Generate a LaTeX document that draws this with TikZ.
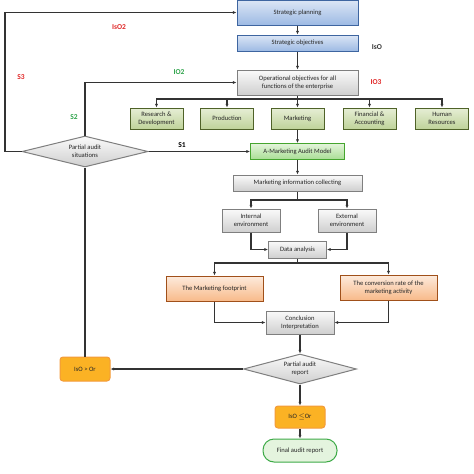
\documentclass[tikz,border=0pt]{standalone}
\usepackage{fontspec}
\setmainfont{Carlito}
\usetikzlibrary{arrows.meta,shapes.geometric,shadings,calc}
\definecolor{lineC}{HTML}{333333}
\definecolor{blueTop}{HTML}{DCE6F5}
\definecolor{blueBot}{HTML}{9DBAE4}
\definecolor{blueDr}{HTML}{3E65A0}
\definecolor{grayTop}{HTML}{FAFAFA}
\definecolor{grayBot}{HTML}{CFCFCF}
\definecolor{grayDr}{HTML}{7F7F7F}
\definecolor{grnTop}{HTML}{E6EED5}
\definecolor{grnBot}{HTML}{BFD39A}
\definecolor{grnDr}{HTML}{4F6228}
\definecolor{amTop}{HTML}{E3F4DA}
\definecolor{amBot}{HTML}{A9DE95}
\definecolor{amDr}{HTML}{45A52E}
\definecolor{orTop}{HTML}{FDEBDD}
\definecolor{orBot}{HTML}{F8BA8A}
\definecolor{orDr}{HTML}{A0501A}
\definecolor{ambF}{HTML}{FBB224}
\definecolor{ambD}{HTML}{F39A3A}
\definecolor{finF}{HTML}{E4F4DE}
\definecolor{finD}{HTML}{3DAA47}
\definecolor{redL}{HTML}{E02828}
\definecolor{grnL}{HTML}{2EA34B}
\tikzset{
  base/.style={rectangle, inner sep=1pt, align=center, font=\fontsize{6.6}{7.6}\selectfont, text=black!85, line width=1pt},
  bluebox/.style={base, draw=blueDr, top color=blueTop, bottom color=blueBot},
  graybox/.style={base, draw=grayDr, top color=grayTop, bottom color=grayBot},
  grnbox/.style={base, draw=grnDr, top color=grnTop, bottom color=grnBot},
  ambox/.style={base, draw=amDr, top color=amTop, bottom color=amBot},
  orbox/.style={base, draw=orDr, top color=orTop, bottom color=orBot},
  ambbox/.style={base, draw=ambD, fill=ambF, rounded corners=3pt},
  finbox/.style={base, draw=finD, fill=finF, rounded corners=11pt},
  dia/.style={diamond, aspect=4, inner sep=0pt, align=center, font=\fontsize{6.6}{7.6}\selectfont, text=black!85, draw=grayDr, line width=1pt, top color=grayTop, bottom color=grayBot},
  conn/.style={draw=lineC, line width=1.1pt},
  arr/.style={conn, -{Latex[length=3.6pt,width=3.2pt]}},
  lab/.style={font=\fontsize{7.5}{8.5}\selectfont\bfseries}
}
\begin{document}
\begin{tikzpicture}[x=1pt,y=-1pt]
\useasboundingbox (0,0) rectangle (474,474);
% top column
\node[bluebox, minimum width=121pt, minimum height=25pt] (sp) at (297.5,12.5) {Strategic planning};
\node[bluebox, minimum width=121pt, minimum height=16pt] (so) at (297.5,43) {Strategic objectives};
\node[graybox, minimum width=121pt, minimum height=25pt] (oo) at (297.5,82.5) {Operational objectives for all\\functions of the enterprise};
% functions
\node[grnbox, minimum width=53pt, minimum height=21pt] (rd) at (156.5,118.5) {Research \&\\Development};
\node[grnbox, minimum width=53pt, minimum height=21pt] (pr) at (227,118.5) {Production};
\node[grnbox, minimum width=53pt, minimum height=21pt] (mk) at (297.5,118.5) {Marketing};
\node[grnbox, minimum width=53pt, minimum height=21pt] (fa) at (369.5,118.5) {Financial \&\\Accounting};
\node[grnbox, minimum width=53pt, minimum height=21pt] (hr) at (442,118.5) {Human\\Resources};
% audit
\node[ambox, minimum width=94pt, minimum height=16pt] (am) at (297.5,151.5) {A-Marketing Audit Model};
\node[graybox, minimum width=129pt, minimum height=16pt] (mic) at (297.5,183) {Marketing information collecting};
\node[graybox, minimum width=58pt, minimum height=23pt] (ie) at (251,220.5) {Internal\\environment};
\node[graybox, minimum width=58pt, minimum height=23pt] (ee) at (347,220.5) {External\\environment};
\node[graybox, minimum width=58pt, minimum height=17pt] (da) at (297.5,249.5) {Data analysis};
\node[orbox, minimum width=97pt, minimum height=25pt] (mf) at (214.5,288.5) {The Marketing footprint};
\node[orbox, minimum width=97pt, minimum height=25pt] (cr) at (388.5,287.5) {The conversion rate of the\\marketing activity};
\node[graybox, minimum width=68pt, minimum height=23pt] (ci) at (300,322.5) {Conclusion\\Interpretation};
\node[dia, minimum width=113pt, minimum height=30pt] (par) at (300,369) {Partial audit\\report};
\node[ambbox, minimum width=50pt, minimum height=24pt] (ig) at (85,369) {IsO > Or};
\node[ambbox, minimum width=50pt, minimum height=22pt] (le) at (300,417) {IsO $\leq$Or};
\node[finbox, minimum width=74pt, minimum height=23pt] (fr) at (300,450.5) {Final audit report};
\node[dia, minimum width=126pt, minimum height=31pt] (ps) at (85,151.5) {Partial audit\\situations};
% coordinates
\coordinate (b1) at (297.5,99);
\coordinate (b2) at (297.5,200);
\coordinate (b3) at (297.5,263);
\coordinate (c3) at (5,12.5);
% connectors
\draw[arr] (sp) -- (so);
\draw[arr] (so) -- (oo);
\draw[conn] (oo.south) -- (b1);
\draw[arr] (b1) -| (rd.north);
\draw[arr] (b1) -| (pr.north);
\draw[arr] (b1) -- (mk.north);
\draw[arr] (b1) -| (fa.north);
\draw[arr] (b1) -| (hr.north);
\draw[arr] (mk) -- (am);
\draw[arr] (am) -- (mic);
\draw[conn] (mic.south) -- (b2);
\draw[arr] (b2) -| (ie.north);
\draw[arr] (b2) -| (ee.north);
\draw[arr] (ie.south) |- (da.west);
\draw[arr] (ee.south) |- (da.east);
\draw[conn] (da.south) -- (b3);
\draw[arr] (b3) -| (mf.north);
\draw[arr] (b3) -| (cr.north);
\draw[arr] (mf.south) |- (ci.west);
\draw[arr] (cr.south) |- (ci.east);
\draw[arr] (ci) -- (par);
\draw[arr] (par.west) -- (ig.east);
\draw[arr] (par) -- (le);
\draw[arr] (le) -- (fr);
\draw[conn] (ig.north) -- (ps.south);
\draw[arr] (ps.west) -| (c3) -- (sp.west);
\draw[arr] (ps.north) |- (oo.west);
\draw[arr] (ps.east) -- (am.west);
% labels
\node[lab, text=redL] (l1) at (119,27) {IsO2};
\node[lab, text=redL] (l2) at (21,77) {S3};
\node[lab, text=grnL] (l3) at (179,72) {IO2};
\node[lab, text=grnL] (l4) at (74,117) {S2};
\node[lab, text=black] (l5) at (182,145) {S1};
\node[lab, text=black!80] (l6) at (377,47) {IsO};
\node[lab, text=redL] (l7) at (376,82) {IO3};
\end{tikzpicture}
\end{document}
